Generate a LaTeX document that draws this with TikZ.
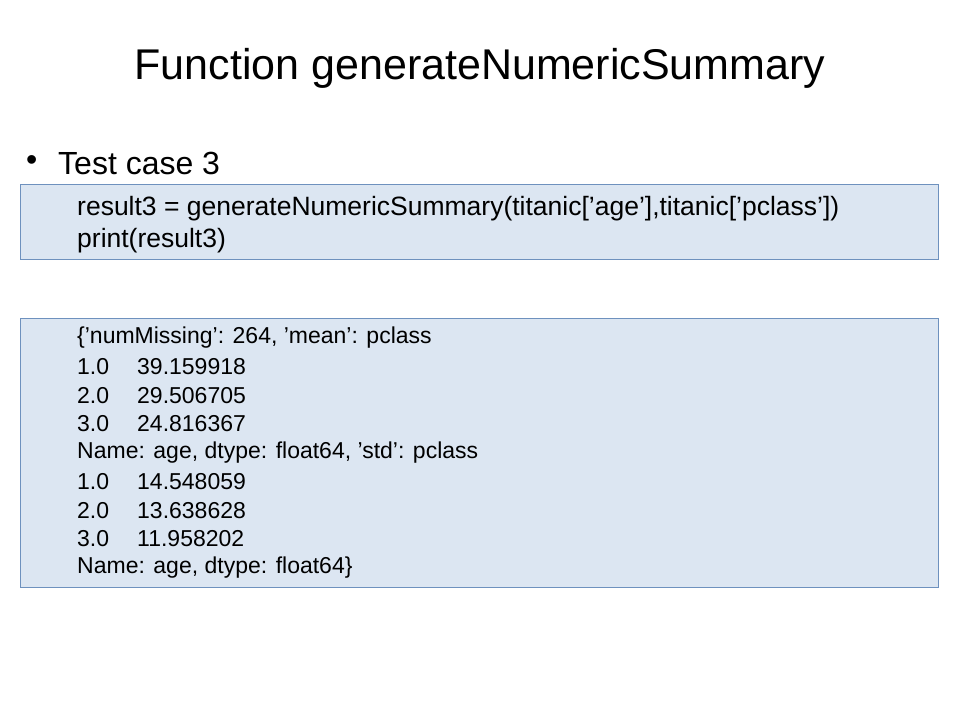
\documentclass[tikz,border=0pt]{standalone}
\usepackage{fontspec}
\setmainfont{Liberation Sans}
\definecolor{boxfill}{RGB}{220,230,242}
\definecolor{boxline}{RGB}{110,145,190}
\newcommand{\qq}{\char"27\relax}
\begin{document}
\begin{tikzpicture}[x=1pt,y=-1pt,
  txt/.style={anchor=west,inner sep=0pt},
  codebox/.style={draw=boxline,fill=boxfill,line width=0.9pt},
  big/.style={font=\fontsize{26.5}{30}\selectfont},
  small/.style={font=\fontsize{23}{27}\selectfont}]
\useasboundingbox (0,0) rectangle (960,720);
\node[inner sep=0pt,font=\fontsize{43}{50}\selectfont] (title) at (480,68) {Function generateNumericSummary};
\node[txt,font=\fontsize{32}{36}\selectfont] (bullet) at (26,163) {•};
\node[txt,font=\fontsize{32}{36}\selectfont] (tc) at (58,163) {Test case 3};
\draw[codebox] (20,184) rectangle (938,259);
\node[txt,big] (c1) at (77,209) {result3 = generateNumericSummary(titanic[\qq age\qq],titanic[\qq pclass\qq])};
\node[txt,big] (c2) at (77,241) {print(result3)};
\draw[codebox] (20,318) rectangle (938,587);
\foreach \i/\y/\t in {1/338/{\{\qq numMissing\qq: 264, \qq mean\qq: pclass},
  5/453/{Name: age, dtype: float64, \qq std\qq: pclass},
  9/568/{Name: age, dtype: float64\}}}
  \node[txt,small] (o\i) at (77,\y) {\t};
\foreach \i/\y/\a/\b in {2/367/1.0/39.159918,3/396/2.0/29.506705,4/424/3.0/24.816367,
  6/482/1.0/14.548059,7/511/2.0/13.638628,8/539/3.0/11.958202}{
  \node[txt,small] (o\i) at (77,\y) {\a};
  \node[txt,small] (v\i) at (137,\y) {\b};}
\end{tikzpicture}
\end{document}
